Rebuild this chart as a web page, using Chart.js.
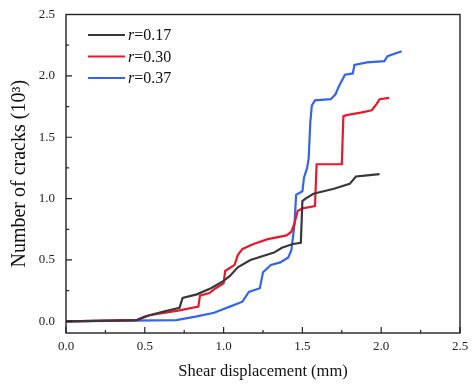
<!DOCTYPE html>
<html>
<head>
<meta charset="utf-8">
<script src="https://cdn.jsdelivr.net/npm/chart.js@4"></script>
<style>
html,body{margin:0;padding:0;background:#fff;}
#wrap{width:474px;height:388px;position:relative;}
</style>
</head>
<body>
<div id="wrap"><canvas id="c" width="474" height="388"></canvas></div>
<script>
// Series data: [shear displacement (mm), number of cracks (10^3)]
const seriesLabels = ["0.17", "0.30", "0.37"];
const r017 = [[0,0],[0.45,0.01],[0.5,0.04],[0.62,0.08],[0.72,0.11],[0.74,0.19],[0.83,0.22],[0.92,0.27],[1.0,0.33],[1.04,0.37],[1.09,0.44],[1.17,0.50],[1.32,0.56],[1.37,0.60],[1.44,0.63],[1.49,0.64],[1.50,0.98],[1.52,1.0],[1.57,1.04],[1.70,1.08],[1.80,1.12],[1.84,1.18],[1.91,1.19],[1.99,1.20]];
const r030 = [[0,0],[0.45,0.01],[0.53,0.05],[0.72,0.09],[0.84,0.12],[0.85,0.21],[0.91,0.23],[0.95,0.27],[1.0,0.31],[1.01,0.41],[1.07,0.46],[1.09,0.54],[1.12,0.59],[1.19,0.63],[1.28,0.67],[1.40,0.70],[1.43,0.73],[1.45,0.80],[1.47,0.90],[1.50,0.92],[1.58,0.94],[1.59,1.28],[1.75,1.28],[1.76,1.67],[1.78,1.68],[1.87,1.70],[1.94,1.72],[1.97,1.77],[1.99,1.81],[2.05,1.82]];
const r037 = [[0,0],[0.7,0.01],[0.83,0.04],[0.94,0.07],[1.0,0.10],[1.04,0.12],[1.12,0.16],[1.16,0.24],[1.23,0.27],[1.25,0.40],[1.30,0.46],[1.36,0.48],[1.41,0.52],[1.43,0.58],[1.45,0.79],[1.46,1.03],[1.50,1.06],[1.51,1.17],[1.53,1.25],[1.54,1.33],[1.55,1.62],[1.56,1.76],[1.58,1.80],[1.68,1.81],[1.71,1.85],[1.73,1.91],[1.75,1.96],[1.77,2.01],[1.82,2.02],[1.83,2.09],[1.91,2.11],[2.02,2.12],[2.04,2.16],[2.13,2.20]];
const xTicks = [0, 0.5, 1.0, 1.5, 2.0, 2.5];
const yTicks = [0, 0.5, 1.0, 1.5, 2.0, 2.5];
const xMinor = [0.25, 0.75, 1.25, 1.75, 2.25];
const yMinor = [0.25, 0.75, 1.25, 1.75, 2.25];

const colors = ["#383838", "#e8192c", "#3564ea"];
const serif = "'Liberation Serif', 'Times New Roman', serif";
const toXY = a => a.map(p => ({x: p[0], y: p[1]}));

const framePlugin = {
  id: 'frame',
  afterDraw(chart) {
    const ctx = chart.ctx, ca = chart.chartArea;
    const xs = chart.scales.x, ys = chart.scales.y;
    ctx.save();
    ctx.strokeStyle = "#222";
    ctx.lineWidth = 1.4;
    ctx.strokeRect(ca.left, ca.top, ca.right - ca.left, ca.bottom - ca.top);
    ctx.lineWidth = 1.2;
    ctx.beginPath();
    xTicks.forEach(v => { const px = xs.getPixelForValue(v); ctx.moveTo(px, ca.bottom); ctx.lineTo(px, ca.bottom - 6); });
    xMinor.forEach(v => { const px = xs.getPixelForValue(v); ctx.moveTo(px, ca.bottom); ctx.lineTo(px, ca.bottom - 3); });
    yTicks.forEach(v => { const py = ys.getPixelForValue(v); ctx.moveTo(ca.left, py); ctx.lineTo(ca.left + 6, py); });
    yMinor.forEach(v => { const py = ys.getPixelForValue(v); ctx.moveTo(ca.left, py); ctx.lineTo(ca.left + 3, py); });
    ctx.stroke();
    // legend
    const lx = 88, ly0 = 35, dy = 21.5;
    chart.data.datasets.forEach((ds, i) => {
      const y = ly0 + i * dy;
      ctx.strokeStyle = ds.borderColor;
      ctx.lineWidth = 2.2;
      ctx.beginPath(); ctx.moveTo(lx, y); ctx.lineTo(lx + 37, y); ctx.stroke();
      ctx.fillStyle = "#111";
      ctx.textBaseline = "middle";
      ctx.font = "italic 16px " + serif;
      ctx.fillText("r", lx + 40, y + 1);
      const w = ctx.measureText("r").width;
      ctx.font = "16px " + serif;
      ctx.fillText("=" + seriesLabels[i], lx + 40 + w, y + 1);
    });
    ctx.restore();
  }
};

new Chart(document.getElementById('c'), {
  type: 'line',
  data: {
    datasets: [
      {label: 'r=' + seriesLabels[0], data: toXY(r017), borderColor: colors[0]},
      {label: 'r=' + seriesLabels[1], data: toXY(r030), borderColor: colors[1]},
      {label: 'r=' + seriesLabels[2], data: toXY(r037), borderColor: colors[2]}
    ].map(d => Object.assign(d, {borderWidth: 2.2, pointRadius: 0, fill: false, tension: 0}))
  },
  options: {
    responsive: false,
    animation: false,
    layout: {padding: {top: 14.5, right: 14, left: 0, bottom: 0}},
    plugins: {legend: {display: false}, tooltip: {enabled: false}},
    scales: {
      x: {
        type: 'linear', min: 0, max: 2.5,
        grid: {display: false, drawTicks: false}, border: {display: false},
        afterBuildTicks: s => { s.ticks = xTicks.map(v => ({value: v})); },
        afterFit: s => { s.height = 55; s.paddingLeft = 0; s.paddingRight = 0; },
        ticks: {padding: 6, color: "#222", font: {family: serif, size: 13}, callback: v => Number(v).toFixed(1), maxRotation: 0},
        title: {display: true, text: 'Shear displacement (mm)', color: "#111", font: {family: serif, size: 16.5}, padding: {top: 0, bottom: 6}}
      },
      y: {
        type: 'linear', min: -0.095, max: 2.5,
        grid: {display: false, drawTicks: false}, border: {display: false},
        afterBuildTicks: s => { s.ticks = yTicks.map(v => ({value: v})); },
        afterFit: s => { s.width = 66; s.paddingTop = 0; s.paddingBottom = 0; },
        ticks: {padding: 11, color: "#222", font: {family: serif, size: 13}, callback: v => Number(v).toFixed(1)},
        title: {display: true, text: 'Number of cracks (10³)', color: "#111", font: {family: serif, size: 20}, padding: {top: 8, bottom: 0}}
      }
    }
  },
  plugins: [framePlugin]
});
</script>
</body>
</html>
